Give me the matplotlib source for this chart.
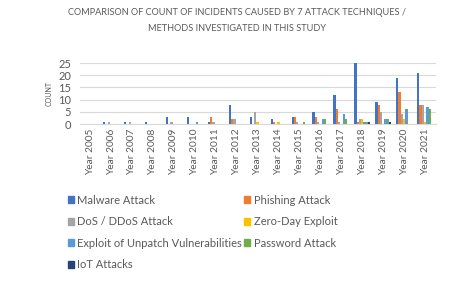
import numpy as np
import matplotlib.pyplot as plt
from matplotlib.patches import Patch

plt.rcParams['font.family'] = ['Lato', 'DejaVu Sans']

years = ['Year %d' % y for y in range(2005, 2022)]
series = ['Malware Attack', 'Phishing Attack', 'DoS / DDoS Attack', 'Zero-Day Exploit',
          'Exploit of Unpatch Vulnerabilities', 'Password Attack', 'IoT Attacks']
colors = ['#4472C4', '#ED7D31', '#A5A5A5', '#FFC000', '#5B9BD5', '#70AD47', '#264478']

#          05 06 07 08 09 10 11 12 13 14 15 16 17  18 19  20  21
malware  = [0, 1, 1, 1, 3, 3, 1, 8, 3, 2, 3, 5, 12, 25, 9, 19, 21]
phishing = [0, 0, 0, 0, 0, 0, 3, 2, 0, 1, 3, 3, 6,  1, 8, 13, 8]
dos      = [0, 1, 1, 0, 1, 0, 1, 2, 5, 0, 1, 1, 1,  2, 5, 4,  8]
zeroday  = [0, 0, 0, 0, 0, 0, 0, 0, 1, 1, 0, 0, 0,  2, 0, 2,  1]
exploit  = [0, 0, 0, 0, 0, 1, 0, 0, 0, 0, 0, 2, 4,  1, 2, 6,  7]
password = [0, 0, 0, 0, 0, 0, 0, 0, 0, 0, 1, 2, 2,  1, 2, 0,  6]
iot      = [0, 0, 0, 0, 0, 0, 0, 0, 0, 0, 0, 0, 0,  1, 1, 0,  0]
values = [malware, phishing, dos, zeroday, exploit, password, iot]

fig = plt.figure(figsize=(4.74, 2.84), dpi=100)
ax = fig.add_axes([0.168, 0.563, 0.751, 0.215])

x = np.arange(len(years))
bw = 0.109
for i, (vals, c) in enumerate(zip(values, colors)):
    ax.bar(x + (i - 3) * bw, vals, bw, color=c, zorder=3)

ax.set_xlim(-0.5, len(years) - 0.5)
ax.set_ylim(0, 25)
ax.set_yticks(range(0, 26, 5))
ax.set_xticks(x)
ax.set_xticklabels(years, rotation=90, fontsize=7.3, color='#595959')
ax.tick_params(axis='y', labelsize=8, labelcolor='#595959', length=0, pad=6)
ax.tick_params(axis='x', length=0, pad=3)
ax.grid(axis='y', color='#D9D9D9', linewidth=0.8, zorder=0)
for s in ['top', 'right', 'left']:
    ax.spines[s].set_visible(False)
ax.spines['bottom'].set_color('#D9D9D9')
ax.set_ylabel('COUNT', fontsize=5, color='#595959', labelpad=4)

fig.text(0.5, 0.955, 'COMPARISON OF COUNT OF INCIDENTS CAUSED BY 7 ATTACK TECHNIQUES /',
         ha='center', va='center', fontsize=6.6, color='#595959')
fig.text(0.5, 0.9, 'METHODS INVESTIGATED IN THIS STUDY',
         ha='center', va='center', fontsize=6.6, color='#595959')

handles = [Patch(color=c) for c in colors]
order = [0, 2, 4, 6, 1, 3, 5]
leg = fig.legend([handles[i] for i in order], [series[i] for i in order],
                 loc='upper left', bbox_to_anchor=(0.143, 0.315), ncol=2,
                 frameon=False, fontsize=8, handlelength=0.55, handleheight=0.55,
                 handletextpad=0.3, labelspacing=0.95, columnspacing=0.2,
                 borderaxespad=0, borderpad=0)
for t in leg.get_texts():
    t.set_color('#595959')

fig.savefig('out.png', dpi=100)
